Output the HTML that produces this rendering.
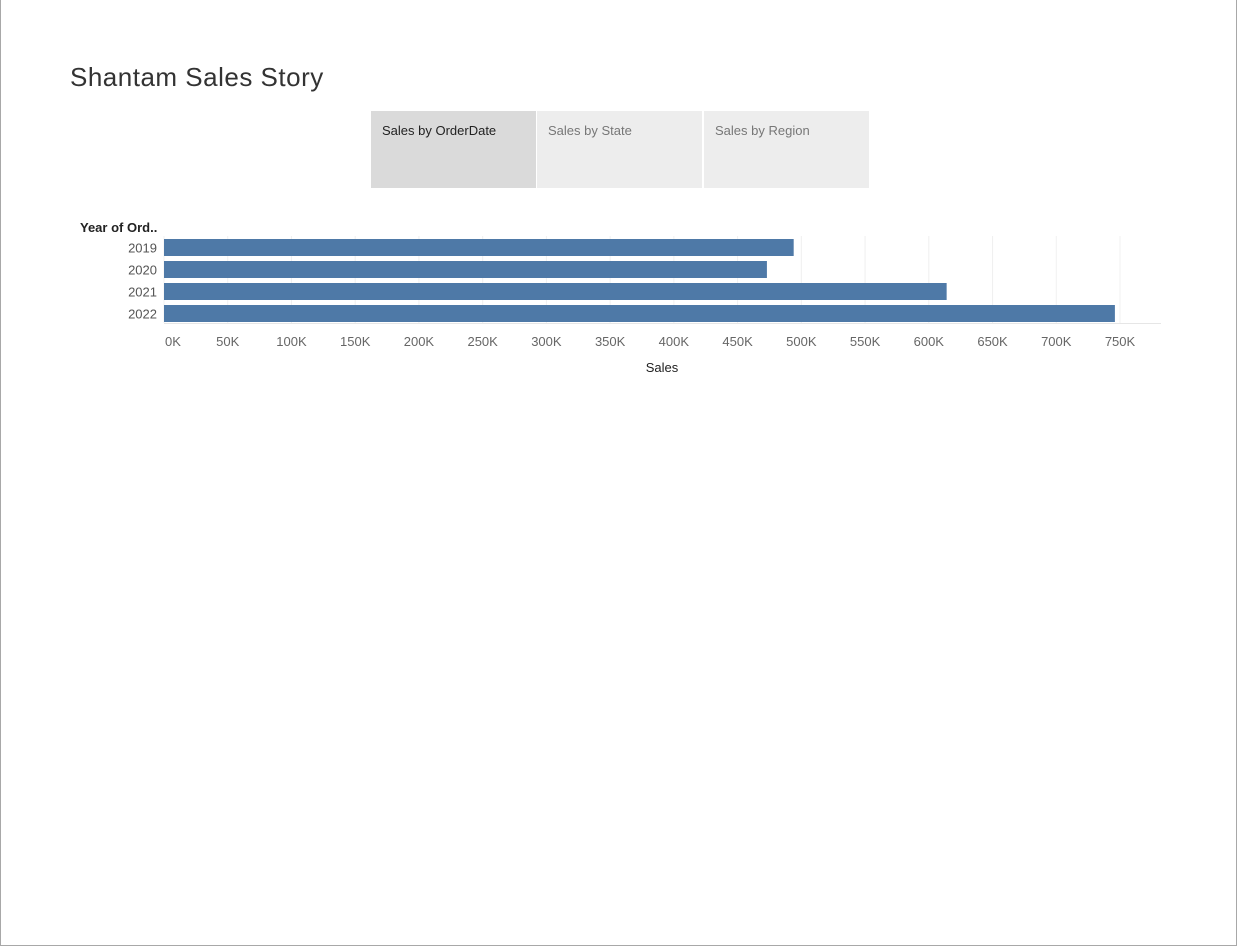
<!DOCTYPE html>
<html><head><meta charset="utf-8"><style>
body{margin:0;width:1237px;height:947px;background:#fff;font-family:"Liberation Sans",sans-serif;position:relative;overflow:hidden}
.frame{position:absolute;left:0;top:0;width:1235px;height:945px;border:1px solid #a8a8a8;border-top:none}
.title{position:absolute;left:70px;top:62px;font-size:26px;letter-spacing:0.5px;color:#333}
.tab{position:absolute;top:111px;width:165px;height:77px;background:#ededed;font-size:13px;color:#777;box-sizing:border-box;padding:12px 0 0 11px}
.tab.active{background:#dadada;color:#222}
</style></head><body>
<div class="frame"></div>
<div class="title">Shantam Sales Story</div>
<div class="tab active" style="left:371px">Sales by OrderDate</div>
<div class="tab" style="left:537px">Sales by State</div>
<div class="tab" style="left:704px">Sales by Region</div>
<svg id="chart" width="1237" height="400" style="position:absolute;left:0;top:0"></svg>
<script>
const categories=["2019","2020","2021","2022"];
const sales=[494000,473000,614000,746000];
const ticks=[0,50000,100000,150000,200000,250000,300000,350000,400000,450000,500000,550000,600000,650000,700000,750000];
const tickLabels=["0K","50K","100K","150K","200K","250K","300K","350K","400K","450K","500K","550K","600K","650K","700K","750K"];
const svg=document.getElementById('chart');const NS='http://www.w3.org/2000/svg';
const x0=164,pxPer=956/750000;
const xs=v=>x0+v*pxPer;
const ys=i=>239+i*22;
function mk(t,a,txt){const e=document.createElementNS(NS,t);for(const k in a)e.setAttribute(k,a[k]);if(txt!=null)e.textContent=txt;svg.appendChild(e);return e;}
ticks.forEach((t,i)=>{
 const g=mk('line',{x1:xs(t),x2:xs(t),y1:236,y2:323,stroke:'#f0f0f0','stroke-width':1});
 
 
 const l=mk('text',{x:i==0?xs(t)+1:xs(t),y:346,'font-size':13,fill:'#666','text-anchor':i==0?'start':'middle'},tickLabels[i]);
 
 
});
const ax=mk('line',{x1:164,x2:1161,y1:323.5,y2:323.5,stroke:'#e6e6e6'});


categories.forEach((c,i)=>{
 const b=mk('rect',{x:x0,y:ys(i),width:xs(sales[i])-x0,height:17,fill:'#4e79a7'});
 
 
 const t=mk('text',{x:157,y:ys(i)+13.5,'font-size':13,fill:'#555','text-anchor':'end'},c);
 
 
});
const yt=mk('text',{x:80,y:232,'font-size':13,fill:'#222','font-weight':'bold'},'Year of Ord..');


const xt=mk('text',{x:662,y:372,'font-size':13,fill:'#222','text-anchor':'middle'},'Sales');


</script>
</body></html>
